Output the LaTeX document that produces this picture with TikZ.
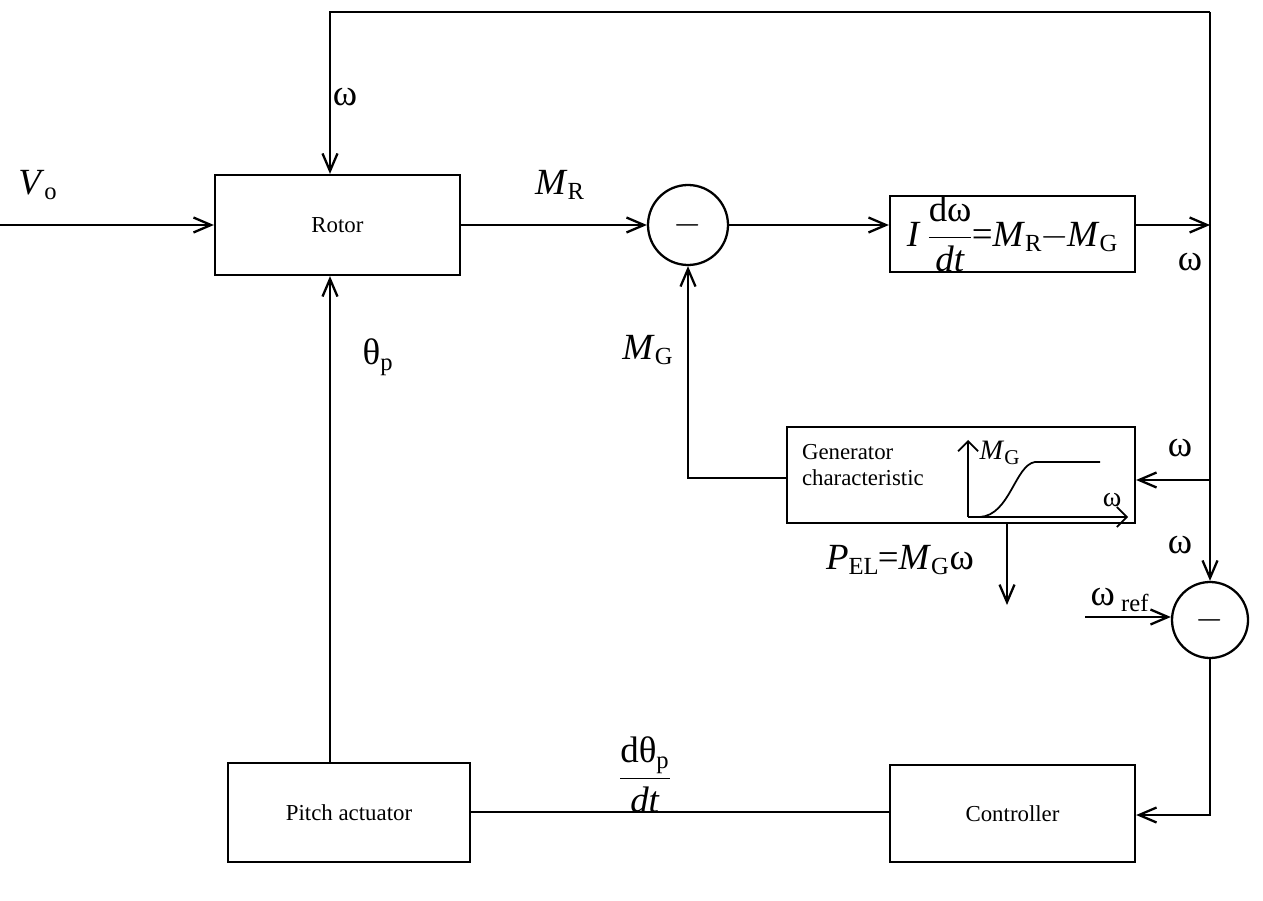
\documentclass[tikz,border=0pt]{standalone}
\usepackage{fontspec}
\setmainfont{Liberation Serif}
\usetikzlibrary{arrows.meta}
\newcommand\Msub[2]{\textit{#1}$_{\mbox{\fontsize{14}{16}\selectfont #2}}$}
\begin{document}
\begin{tikzpicture}[x=0.02cm,y=-0.02cm,
  line width=1.3pt,
  ar/.style={-{Straight Barb[length=3.5mm,width=3mm]}},
  blk/.style={draw,inner sep=0pt},
  lab/.style={font=\fontsize{21}{24}\selectfont},
  btxt/.style={font=\fontsize{13}{15}\selectfont}]
\useasboundingbox (0,0) rectangle (1263,901);
% boxes
\node[blk,minimum width=245*0.02cm,minimum height=100*0.02cm,btxt] (rotor) at (337.5,225) {Rotor};
\node[draw,circle,minimum size=80*0.02cm,inner sep=0pt,lab] (s1) at (688,225) {$-$};
\node[blk,minimum width=245*0.02cm,minimum height=72*0.02cm,lab] (dyn) at (1012.5,234) {\textit{I}\,$\displaystyle\frac{\mbox{dω}}{\mbox{\textit{dt}}}$\kern-1pt=\Msub{M}{R}\kern-1pt$-$\kern-1pt\Msub{M}{G}};
\node[blk,minimum width=348*0.02cm,minimum height=96*0.02cm] (gen) at (961,475) {};
\node[btxt,align=left,anchor=west] (gtxt) at (795,465) {Generator\\characteristic};
\node[draw,circle,minimum size=76*0.02cm,inner sep=0pt,lab] (s2) at (1210,620) {$-$};
\node[blk,minimum width=245*0.02cm,minimum height=97*0.02cm,btxt] (ctrl) at (1012.5,813.5) {Controller};
\node[blk,minimum width=242*0.02cm,minimum height=99*0.02cm,btxt] (pitch) at (349,812.5) {Pitch actuator};
% coordinates
\coordinate (vin) at (0,225);
\coordinate (t1) at (330,12);
\coordinate (t2) at (1210,12);
\coordinate (r225) at (1210,225);
\coordinate (r480) at (1210,480);
\coordinate (mg) at (688,478);
\coordinate (pel) at (1007,605);
\coordinate (wref) at (1085,617);
\coordinate (c815) at (1210,815);
% connectors
\draw[ar] (vin) -- (rotor.west);
\draw[ar] (t2) -- (t1) -- (rotor.north -| t1);
\draw[ar] (t2) -- (s2.north);
\draw[ar] (rotor.east) -- (s1.west);
\draw[ar] (s1.east) -- (dyn.west |- s1.east);
\draw[ar] (dyn.east |- r225) -- (r225);
\draw[ar] (r480) -- (gen.east |- r480);
\draw[ar] (gen.west |- mg) -- (mg) -- (s1.south);
\draw[ar] (gen.south -| pel) -- (pel);
\draw[ar] (wref) -- (s2.west |- wref);
\draw[ar] (s2.south) -- (c815) -- (ctrl.east |- c815);
\draw (ctrl.west |- 0,812) -- (pitch.east |- 0,812);
\draw[ar] (pitch.north -| t1) -- (rotor.south -| t1);
% generator graph
\draw[line width=1pt,-{Straight Barb[length=2mm]}] (968,517) -- (968,440);
\draw[line width=1pt,-{Straight Barb[length=2mm]}] (968,517) -- (1128,517);
\draw[line width=1pt] (980,517) .. controls (1010,515) and (1015,465) .. (1035,462) -- (1100,462);
\node[font=\fontsize{16}{18}\selectfont] at (1000,453) {\textit{M}$_{\mbox{\fontsize{12}{14}\selectfont G}}$};
\node[font=\fontsize{16}{18}\selectfont] at (1112,500) {ω};
% labels
\node[lab] at (38,185) {\textit{V}$_{\mbox{\fontsize{14}{16}\selectfont o}}$};
\node[lab] at (345,97) {ω};
\node[lab] at (560,185) {\Msub{M}{R}};
\node[lab] at (1190,262) {ω};
\node[lab] at (648,350) {\Msub{M}{G}};
\node[lab] at (378,357) {θ$_{\mbox{\fontsize{14}{16}\selectfont p}}$};
\node[lab] at (1180,448) {ω};
\node[lab] at (1180,545) {ω};
\node[lab] at (1120,600) {ω$_{\mbox{\fontsize{14}{16}\selectfont\ ref}}$};
\node[lab] at (900,560) {\Msub{P}{EL}\kern-1pt=\Msub{M}{G}ω};
\node[lab] at (645,775) {$\displaystyle\frac{\mbox{dθ$_{\mbox{\fontsize{14}{16}\selectfont p}}$}}{\mbox{\textit{dt}}}$};
\end{tikzpicture}
\end{document}
